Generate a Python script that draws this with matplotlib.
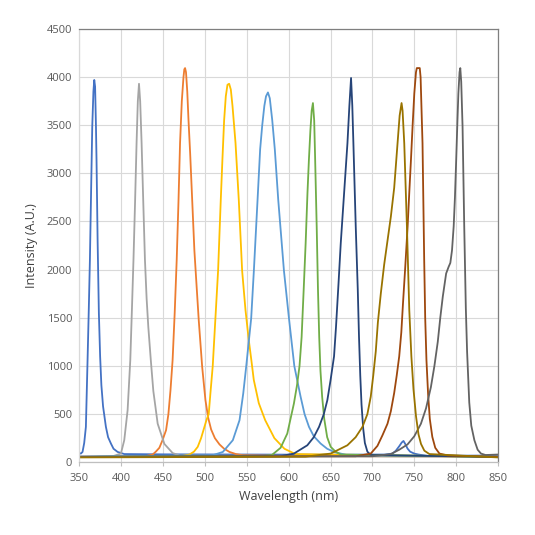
import matplotlib.pyplot as plt

# Emission spectra: wavelength (nm) and intensity (A.U.)
wl_369 = [350, 352, 354, 356, 358, 360, 361.5, 362.8, 364.2, 365.6, 367, 368, 369, 370, 370.7, 372, 373.5, 375,
          376.5, 378.5, 381.9, 384.5, 387.9, 391, 395.9, 403.8, 450, 550, 650, 715, 724, 728, 732, 735, 737.1,
          739.5, 741.9, 745, 749.9, 755, 765.8, 800, 850]
in_369 = [95, 90, 107, 200, 367, 1060, 1600, 2100, 2800, 3485, 3850, 3970, 3900, 3500, 3140, 2300, 1550, 1100,
          800, 580, 367, 260, 194, 140, 107, 85, 82, 80, 78, 80, 90, 120, 166, 205, 221,
          185, 142, 110, 90, 80, 66, 68, 70]

wl_476 = [350, 430, 437.7, 441.5, 445.7, 449.5, 453.7, 456.5, 459, 461.5, 464, 466.4, 468.5, 470.4, 472.5, 474.5,
          475.5, 476.4, 477.5, 479, 480.5, 482.5, 485, 487.5, 490, 492.7, 496.8, 500.7, 504, 507.5, 512, 517.5,
          523, 529.4, 537, 545.4, 600, 700, 850]
in_476 = [60, 65, 80, 110, 150, 230, 333, 500, 750, 1060, 1550, 2100, 2700, 3315, 3750, 4000,
          4080, 4093, 4050, 3850, 3550, 3200, 2700, 2200, 1850, 1476, 991, 645, 460, 340, 250, 185,
          140, 107, 85, 73, 65, 62, 60]

wl_421 = [350, 390, 399.8, 403.8, 407.8, 411, 413, 414.8, 416.7, 418.5, 420, 421.4, 422.8, 424.5, 426.5, 428.5,
          430.5, 432.5, 435.5, 438.5, 443.7, 451.7, 461.6, 470, 850]
in_421 = [55, 62, 90, 229, 540, 1060, 1600, 2100, 2700, 3315, 3750, 3930, 3750, 3315, 2700, 2100,
          1700, 1406, 1060, 740, 400, 190, 95, 70, 55]

wl_529 = [350, 470, 481.6, 487, 491.5, 495.5, 499.5, 502, 504.6, 506.6, 509.4, 512.6, 515.8, 519, 521, 523, 525,
          527, 529, 531, 533, 536.6, 540.5, 544.5, 548.5, 552.4, 555.5, 558.4, 564.4, 572, 583, 595, 608, 850]
in_529 = [55, 60, 80, 110, 160, 250, 367, 440, 499, 713, 998, 1494, 1989, 2724, 3150, 3550, 3800,
          3920, 3930, 3870, 3700, 3315, 2724, 1989, 1581, 1270, 1060, 855, 613, 437, 250, 140, 85, 55]

wl_575 = [350, 500, 509.5, 521.5, 533.4, 541.4, 545.8, 549.4, 555.3, 558.5, 562.9, 566, 568.5, 571, 573, 575.3,
          577.5, 580.4, 583.5, 587.6, 594.4, 600.4, 606.8, 614.3, 619, 624.3, 630, 638.2, 646, 654.2, 670.1, 850]
in_575 = [60, 70, 73, 107, 229, 437, 713, 998, 1494, 1989, 2724, 3250, 3500, 3700, 3800, 3840,
          3780, 3555, 3250, 2724, 1989, 1494, 998, 680, 500, 367, 270, 194, 140, 107, 73, 60]

wl_629 = [350, 570, 580, 590.4, 598.4, 606.3, 610, 613, 615.5, 618, 620.3, 622.5, 624.2, 626, 627.5, 629, 630.5,
          631.5, 633.5, 635, 636.5, 638, 640, 642.5, 646, 650.2, 656, 662.2, 850]
in_629 = [55, 65, 75, 150, 298, 610, 800, 1000, 1300, 1800, 2273, 2800, 3140, 3450, 3650, 3730, 3550,
          3200, 2446, 1800, 1300, 950, 680, 450, 260, 160, 110, 80, 55]

wl_674 = [350, 590, 606.3, 622.3, 630, 636.3, 642, 646.2, 650, 654.2, 656.5, 659.5, 662.2, 666.2, 670.2, 672.5,
          674.5, 676, 677.3, 680.1, 682.5, 684, 685.5, 687, 689, 691, 694, 698, 850]
in_674 = [55, 62, 90, 176, 260, 367, 500, 644, 850, 1100, 1400, 1850, 2273, 2793, 3313, 3700,
          3990, 3700, 3313, 2446, 1800, 1300, 900, 600, 350, 200, 110, 75, 55]

wl_754 = [350, 680, 698, 706, 712, 718, 722, 726, 729, 732, 734.5, 736.5, 739, 742, 744, 746, 748, 750, 752,
          753, 756.5, 757.5, 758.5, 759.8, 761.8, 763, 764.5, 766.5, 768.5, 771.5, 775, 780, 790, 850]
in_754 = [55, 62, 90, 170, 280, 400, 530, 720, 900, 1100, 1350, 1650, 2000, 2446, 2800, 3140, 3500, 3830, 4050,
          4093, 4093, 4000, 3700, 3313, 2100, 1500, 1060, 700, 450, 263, 150, 90, 70, 55]

wl_805 = [350, 700, 722, 732, 741.9, 750, 757.9, 764, 769.8, 774, 778, 781, 784, 788, 791, 793, 795, 797, 798.5,
          800, 801.5, 802.6, 804, 804.9, 806, 807.6, 809.6, 811.5, 813, 815.6, 818, 821.7, 825.6, 829.6, 835, 850]
in_805 = [55, 62, 85, 130, 185, 270, 400, 560, 780, 1000, 1250, 1500, 1720, 1960, 2030, 2070, 2200, 2450, 2750,
          3140, 3550, 3830, 4050, 4093, 3950, 3485, 2446, 1600, 1150, 620, 380, 229, 130, 90, 75, 80]

wl_735 = [350, 620, 650.2, 670.1, 680, 688.1, 694, 698, 701, 704, 706.5, 710, 714, 718, 722, 726, 730, 732.5,
          734.8, 736, 738, 741.2, 744, 746.5, 749, 752, 755, 758, 762, 768, 850]
in_735 = [50, 58, 90, 176, 260, 367, 500, 680, 900, 1150, 1450, 1750, 2050, 2300, 2550, 2850, 3313, 3600,
          3730, 3650, 3313, 2446, 1580, 1100, 760, 480, 290, 190, 120, 85, 50]

series = [
    (wl_369, in_369, "#4472C4"),
    (wl_476, in_476, "#ED7D31"),
    (wl_421, in_421, "#A5A5A5"),
    (wl_529, in_529, "#FFC000"),
    (wl_575, in_575, "#5B9BD5"),
    (wl_629, in_629, "#70AD47"),
    (wl_674, in_674, "#264478"),
    (wl_754, in_754, "#9E480E"),
    (wl_805, in_805, "#636363"),
    (wl_735, in_735, "#997300"),
]

plt.rcParams["font.family"] = ["Open Sans", "DejaVu Sans"]

fig = plt.figure(figsize=(5.35, 5.35), dpi=100)
ax = fig.add_axes([0.148, 0.136, 0.783, 0.810])

for x, y, c in series:
    ax.plot(x, y, color=c, lw=1.3, solid_joinstyle="round")

ax.set_xlim(350, 850)
ax.set_ylim(0, 4500)
ax.set_xticks(range(350, 851, 50))
ax.set_yticks(range(0, 4501, 500))
ax.grid(True, color="#D9D9D9", lw=0.8)
ax.set_axisbelow(True)

ax.spines["left"].set_color("#D9D9D9")
ax.spines["bottom"].set_color("#BFBFBF")
ax.spines["top"].set_color("#7F7F7F")
ax.spines["right"].set_color("#7F7F7F")
for s in ax.spines.values():
    s.set_linewidth(0.9)

ax.tick_params(axis="both", labelsize=8, colors="#595959", length=0, pad=5)
ax.tick_params(axis="x", length=3, color="#BFBFBF")
ax.set_xlabel("Wavelength (nm)", fontsize=9, color="#404040", labelpad=4)
ax.set_ylabel("Intensity (A.U.)", fontsize=9, color="#404040", labelpad=6)

fig.savefig("out.png", dpi=100)
